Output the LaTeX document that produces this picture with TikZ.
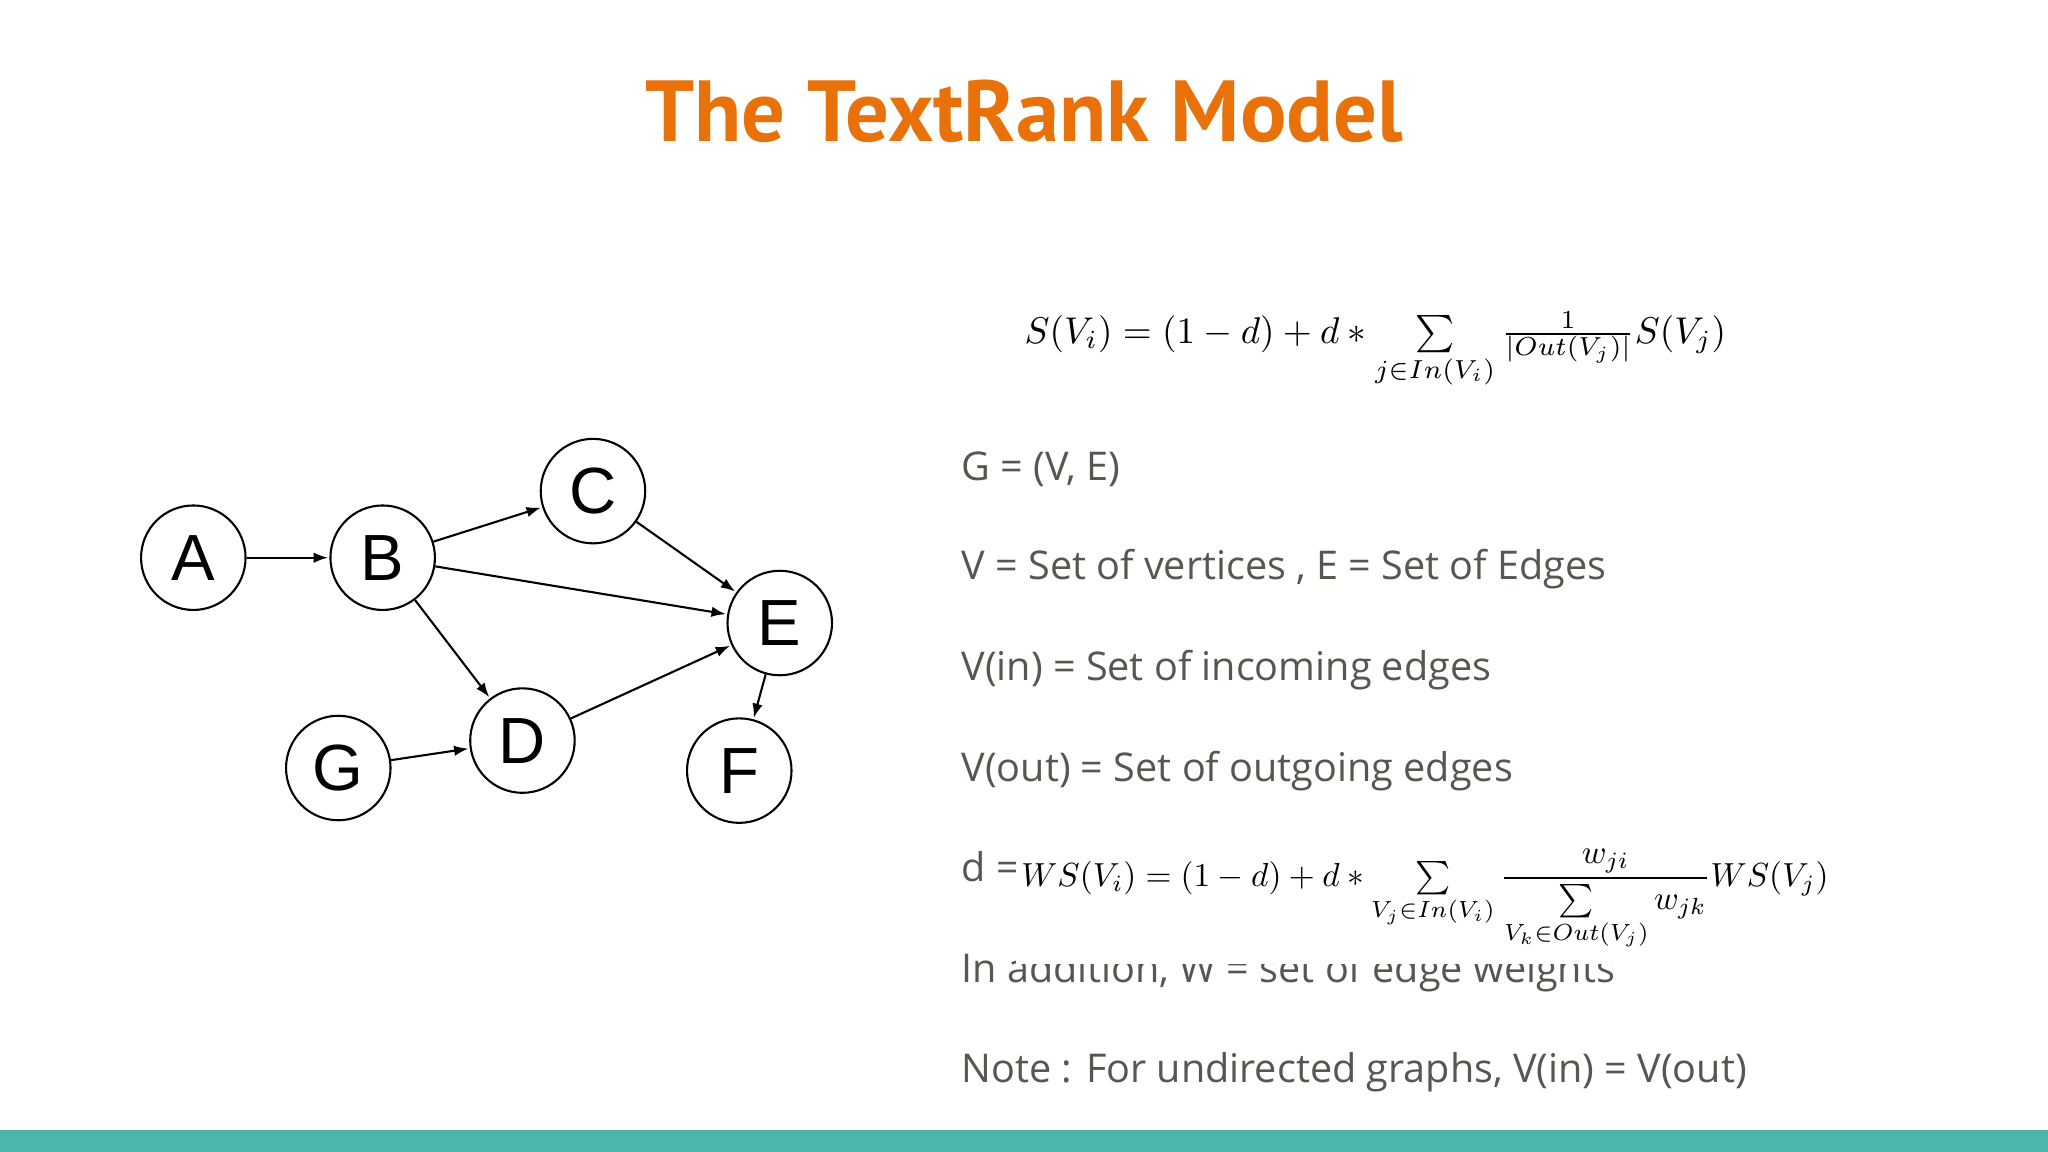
\documentclass[tikz,border=0pt]{standalone}
\usepackage{fontspec}
\usepackage{graphicx}
\usepackage{amsmath}
\usetikzlibrary{arrows.meta}
\setmainfont{Open Sans}
\newfontfamily\titlefont{PT Sans}
\newfontfamily\nodefont{Liberation Sans}
\definecolor{titleorange}{RGB}{232,113,10}
\definecolor{bodygray}{RGB}{88,86,78}
\definecolor{barteal}{RGB}{77,182,170}
\tikzset{
  vtx/.style={circle,draw=black,line width=1.6pt,minimum size=80pt,inner sep=0pt,font=\nodefont\fontsize{50}{50}\selectfont},
  edge/.style={-{Latex[length=11pt,width=8pt]},line width=1.6pt,shorten >=1pt},
  body/.style={anchor=base west,inner sep=0pt,text=bodygray,font=\fontsize{30.3}{30.3}\selectfont}
}
\begin{document}
\begin{tikzpicture}[x=1pt,y=-1pt]
\useasboundingbox (0,0) rectangle (1568,882);
\fill[white] (0,0) rectangle (1568,882);
\fill[barteal] (0,865) rectangle (1568,882);
\node[text=titleorange,inner sep=0pt] (title) at (784,85) {\resizebox{580pt}{!}{\titlefont\bfseries\fontsize{80}{80}\selectfont The TextRank Model}};
% graph
\node[vtx] (A) at (148,427) {A};
\node[vtx] (B) at (293,427) {B};
\node[vtx] (C) at (454,376) {C};
\node[vtx] (E) at (597,477) {E};
\node[vtx] (D) at (400,567) {D};
\node[vtx] (G) at (259,588) {G};
\node[vtx] (F) at (566,590) {F};
\draw[edge] (A) -- (B);
\draw[edge] (B) -- (C);
\draw[edge] (B) -- (E);
\draw[edge] (B) -- (D);
\draw[edge] (C) -- (E);
\draw[edge] (D) -- (E);
\draw[edge] (G) -- (D);
\draw[edge] (E) -- (F);
% formula 1
\node[inner sep=0pt] (f1) at (1053,268) {\resizebox{537pt}{!}{$S(V_i)=(1-d)+d*\sum\limits_{j\in In(V_i)}\tfrac{1}{|Out(V_j)|}S(V_j)$}};
% body text
\node[body] (t1) at (736,368) {G = (V, E)};
\node[body] (t2) at (736,444) {V = Set of vertices , E = Set of Edges};
\node[body] (t3) at (736,521) {V(in) = Set of incoming edges};
\node[body] (t4) at (736,598) {V(out) = Set of outgoing edges};
\node[body] (t5) at (736,675) {d =};
\node[body] (t6) at (736,752) {In addition, W = set of edge weights};
\node[body] (t7) at (736,829) {Note : For undirected graphs, V(in) = V(out)};
% formula 2 overlay
\fill[white] (778,652) rectangle (1405,738);
\node[inner sep=0pt] (f2) at (1091,689) {\resizebox{618pt}{!}{$WS(V_i)=(1-d)+d*\sum\limits_{V_j\in In(V_i)}\dfrac{w_{ji}}{\sum\limits_{V_k\in Out(V_j)}w_{jk}}WS(V_j)$}};
\end{tikzpicture}
\end{document}
